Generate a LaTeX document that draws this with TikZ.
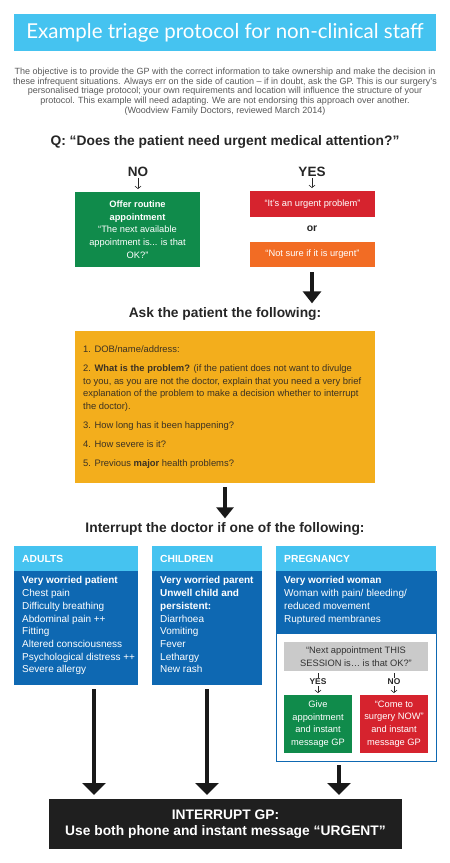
\documentclass[tikz,border=0pt]{standalone}
\usepackage{fontspec}
\setmainfont{Liberation Sans}
\newfontfamily\titlefont{Lato}
\usetikzlibrary{arrows.meta}
\definecolor{skyblue}{RGB}{69,195,240}
\definecolor{darkblue}{RGB}{14,104,178}
\definecolor{nogreen}{RGB}{16,139,75}
\definecolor{urgred}{RGB}{214,35,46}
\definecolor{unsureorange}{RGB}{242,108,36}
\definecolor{askyellow}{RGB}{243,174,28}
\definecolor{introgray}{RGB}{88,88,88}
\definecolor{sessiongray}{RGB}{202,202,202}
\definecolor{yellowtext}{RGB}{60,50,35}

\begin{document}
\begin{tikzpicture}[x=1pt,y=1pt,yscale=-1,
  box/.style={anchor=north west, inner sep=0pt, outer sep=0pt},
  heading/.style={font=\bfseries\fontsize{13.8}{15}\selectfont, text=black!85, inner sep=1pt},
  boxtext/.style={text=white, align=center, font=\fontsize{9.3}{12.7}\selectfont},
  coltext/.style={anchor=north west, inner sep=0pt, text=white, align=left, font=\fontsize{10}{12.7}\selectfont},
  colhead/.style={anchor=west, inner sep=0pt, text=white, font=\bfseries\fontsize{10.3}{12}\selectfont},
  smalllbl/.style={inner sep=1pt, text=black!85, font=\bfseries\fontsize{8.4}{9}\selectfont},
  bigarrow/.style={line width=4.5pt, black!90, -{Triangle[width=23pt,length=12pt]}},
  smallarrow/.style={line width=0.6pt, black!85, -{Straight Barb[length=2.5pt,width=6pt]}}]
\useasboundingbox (0,0) rectangle (450,863);

% title
\node[box, fill=skyblue, minimum width=422pt, minimum height=37pt] (titlebar) at (14,14) {};
\node[text=white, font=\titlefont\fontsize{20.5}{24}\selectfont] (title) at (titlebar.center) {Example triage protocol for non-clinical staff};
\node[text=introgray, align=center, font=\fontsize{9}{9.7}\selectfont] (intro) at (225,91.5)
  {The objective is to provide the GP with the correct information to take ownership and make the decision in\\
   these infrequent situations. Always err on the side of caution -- if in doubt, ask the GP. This is our surgery’s\\
   personalised triage protocol; your own requirements and location will influence the structure of your\\
   protocol. This example will need adapting. We are not endorsing this approach over another.\\
   (Woodview Family Doctors, reviewed March 2014)};

% the question
\node[heading] (question) at (225,142) {Q: “Does the patient need urgent medical attention?”};
\node[heading, font=\bfseries\fontsize{13.5}{15}\selectfont] (nolbl) at (138,172) {NO};
\node[heading, font=\bfseries\fontsize{13.5}{15}\selectfont] (yeslbl) at (312,172) {YES};

\node[box, fill=nogreen, minimum width=125pt, minimum height=75pt] (routine) at (75,192) {};
\node[boxtext] (routinetext) at (routine.center)
  {\textbf{Offer routine}\\\textbf{appointment}\\“The next available\\appointment is... is that\\OK?”};
\node[box, fill=urgred, minimum width=125pt, minimum height=26pt] (urgent) at (250,191) {};
\node[boxtext] (urgenttext) at (urgent.center) {“It’s an urgent problem”};
\node[heading, font=\bfseries\fontsize{10.5}{12}\selectfont] (orlbl) at (312,229) {or};
\node[box, fill=unsureorange, minimum width=125pt, minimum height=25pt] (unsure) at (250,242) {};
\node[boxtext] (unsuretext) at (unsure.center) {“Not sure if it is urgent”};

\draw[smallarrow, shorten >=3pt] (nolbl.south) -- (routine.north -| nolbl);
\draw[smallarrow, shorten >=3pt] (yeslbl.south) -- (urgent.north -| yeslbl);

% ask the patient
\node[heading] (askhead) at (225,314) {Ask the patient the following:};
\draw[bigarrow, -{Triangle[width=18pt,length=12pt]}, shorten <=5pt, shorten >=3pt] (unsure.south -| yeslbl) -- (askhead.north -| yeslbl);

\node[box, fill=askyellow, minimum width=300pt, minimum height=152pt] (questions) at (75,331) {};
\node[anchor=west, inner sep=0pt, text=yellowtext, align=left, font=\fontsize{9.4}{12.5}\selectfont] (questionstext) at (83,407)
  {1. DOB/name/address:\\[6.5pt]
   2. \textbf{What is the problem?} (if the patient does not want to divulge\\
   to you, as you are not the doctor, explain that you need a very brief\\
   explanation of the problem to make a decision whether to interrupt\\
   the doctor).\\[6.5pt]
   3. How long has it been happening?\\[6.5pt]
   4. How severe is it?\\[6.5pt]
   5. Previous \textbf{major} health problems?};

% interrupt the doctor
\node[heading] (interrupt) at (225,529) {Interrupt the doctor if one of the following:};
\draw[bigarrow, -{Triangle[width=17pt,length=11pt]}, shorten <=4pt, shorten >=3pt] (questions.south) -- (interrupt.north);

\node[box, fill=skyblue, minimum width=124pt, minimum height=25pt] (adultshead) at (14,546) {};
\node[colhead] (adultslbl) at (22,558.5) {ADULTS};
\node[box, fill=darkblue, minimum width=124pt, minimum height=114pt] (adults) at (14,571) {};
\node[coltext] (adultstext) at (22,576.5)
  {\textbf{Very worried patient}\\Chest pain\\Difficulty breathing\\Abdominal pain ++\\Fitting\\Altered consciousness\\Psychological distress ++\\Severe allergy};

\node[box, fill=skyblue, minimum width=110pt, minimum height=25pt] (childrenhead) at (152,546) {};
\node[colhead] (childrenlbl) at (160,558.5) {CHILDREN};
\node[box, fill=darkblue, minimum width=110pt, minimum height=114pt] (children) at (152,571) {};
\node[coltext] (childrentext) at (160,576.5)
  {\textbf{Very worried parent}\\\textbf{Unwell child and}\\\textbf{persistent:}\\Diarrhoea\\Vomiting\\Fever\\Lethargy\\New rash};

\node[box, fill=skyblue, minimum width=160pt, minimum height=25pt] (pregnancyhead) at (276,546) {};
\node[colhead] (pregnancylbl) at (284,558.5) {PREGNANCY};
\node[box, draw=darkblue, line width=1pt, fill=white, minimum width=160pt, minimum height=190pt] (pregnancy) at (276,571) {};
\node[box, fill=darkblue, minimum width=160pt, minimum height=63pt] (pregnancybody) at (276,571) {};
\node[coltext] (pregnancytext) at (284,576.5)
  {\textbf{Very worried woman}\\Woman with pain/ bleeding/\\reduced movement\\Ruptured membranes};

\node[box, fill=sessiongray, minimum width=144pt, minimum height=29pt] (session) at (284,642) {};
\node[boxtext, text=black!80] (sessiontext) at (session.center) {“Next appointment THIS\\SESSION is… is that OK?”};
\node[smalllbl] (yessmall) at (318,682) {YES};
\node[smalllbl] (nosmall) at (394,682) {NO};
\node[box, fill=nogreen, minimum width=68pt, minimum height=58pt] (give) at (284,695) {};
\node[boxtext] (givetext) at (give.center) {Give\\appointment\\and instant\\message GP};
\node[box, fill=urgred, minimum width=68pt, minimum height=58pt] (comenow) at (360,695) {};
\node[boxtext] (comenowtext) at (comenow.center) {“Come to\\surgery NOW”\\and instant\\message GP};

\draw[line width=0.6pt, black!85, shorten <=2pt] (session.south -| yessmall) -- (yessmall.north);
\draw[line width=0.6pt, black!85, shorten <=2pt] (session.south -| nosmall) -- (nosmall.north);
\draw[smallarrow, shorten >=2pt] (yessmall.south) -- (give.north -| yessmall);
\draw[smallarrow, shorten >=2pt] (nosmall.south) -- (comenow.north -| nosmall);

% interrupt GP
\node[box, fill=black!88, minimum width=353pt, minimum height=50pt] (gp) at (49,799) {};
\node[text=white, align=center, font=\bfseries\fontsize{13.8}{16}\selectfont] (gptext) at (gp.center)
  {INTERRUPT GP:\\Use both phone and instant message “URGENT”};
\coordinate (pregnancyout) at (339,761);
\draw[bigarrow, shorten <=4pt, shorten >=4pt] (adults.south -| 94,0) -- (gp.north -| 94,0);
\draw[bigarrow, shorten <=4pt, shorten >=4pt] (children.south -| 207,0) -- (gp.north -| 207,0);
\draw[bigarrow, shorten <=4pt, shorten >=4pt] (pregnancyout) -- (gp.north -| pregnancyout);
\end{tikzpicture}
\end{document}
